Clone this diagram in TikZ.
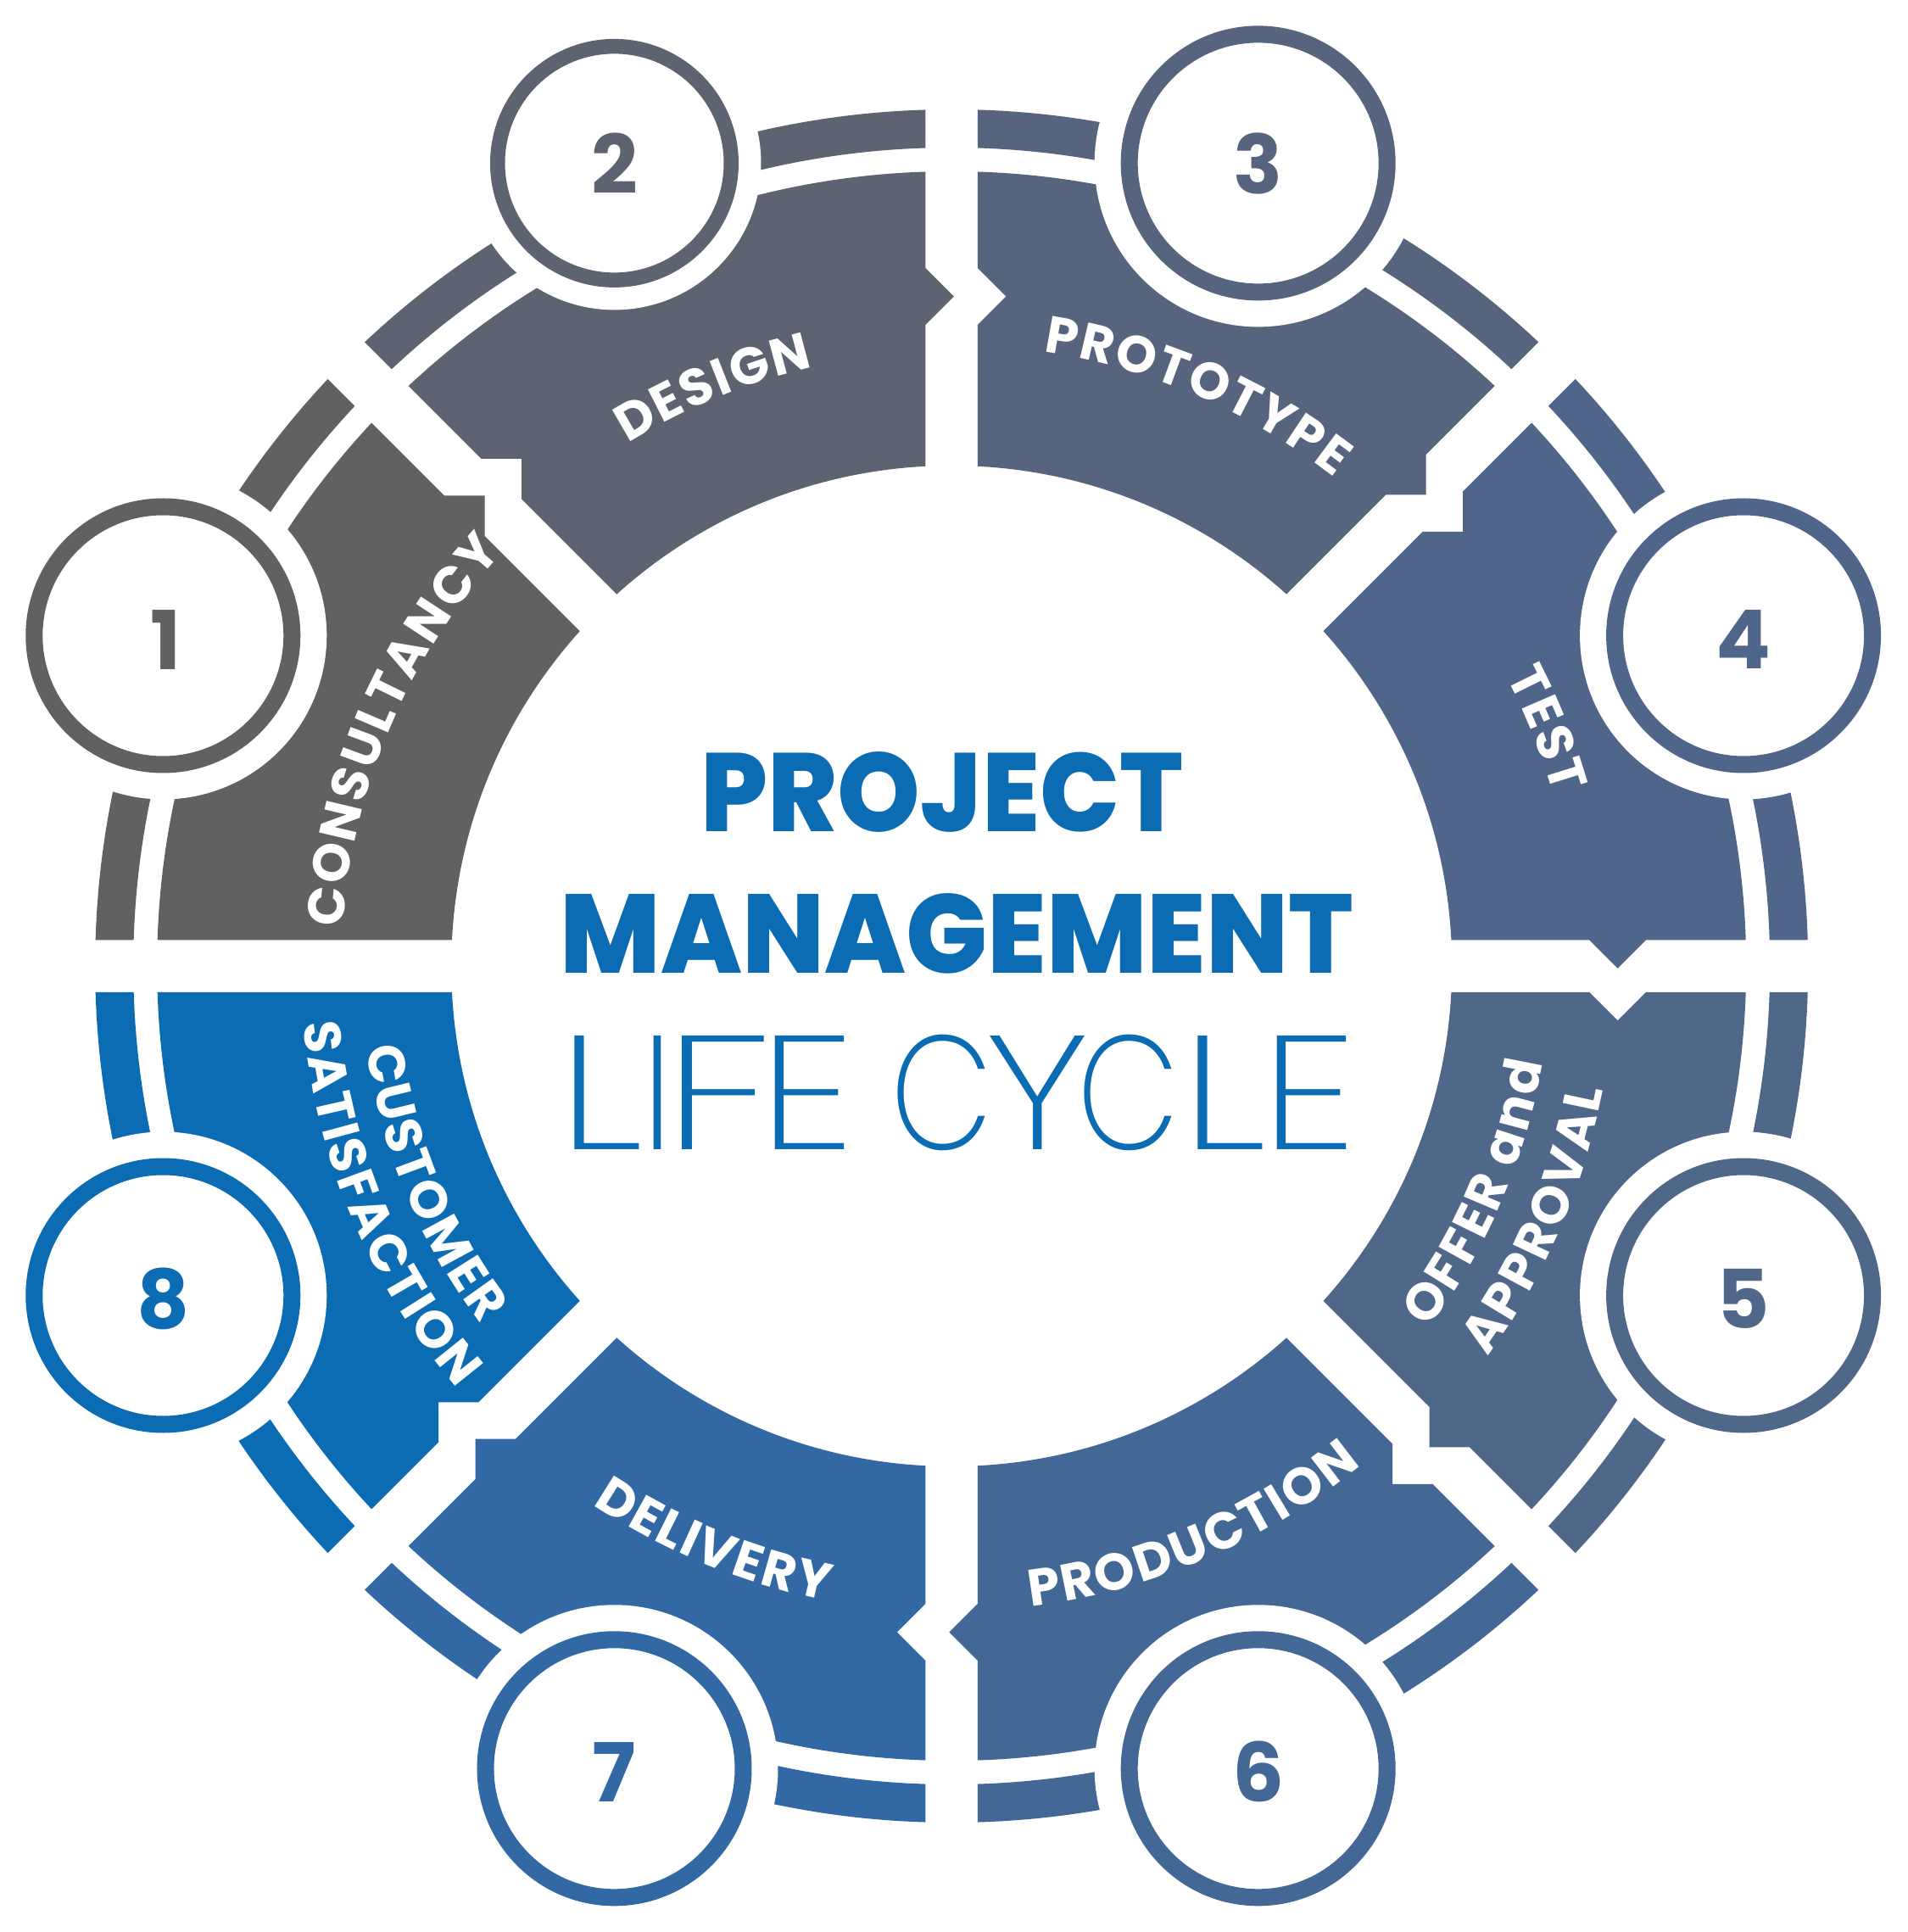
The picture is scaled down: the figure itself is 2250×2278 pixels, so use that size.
\documentclass[tikz,border=0pt]{standalone}
\usepackage{fontspec}
\setmainfont{Poppins}
\newfontfamily\heavyfont{Poppins ExtraBold}
\newfontfamily\lightfont{Poppins ExtraLight}
\usetikzlibrary{decorations.text}
\definecolor{cA}{HTML}{616161}
\definecolor{cB}{HTML}{5D6370}
\definecolor{cC}{HTML}{56657D}
\definecolor{cD}{HTML}{4F668A}
\definecolor{cE}{HTML}{4F6789}
\definecolor{cF}{HTML}{446896}
\definecolor{cG}{HTML}{3269A4}
\definecolor{cH}{HTML}{0B6CB4}
\definecolor{titleblue}{HTML}{0B6CB4}
\newcommand\lblfont{\fontsize{61}{61}\selectfont\bfseries\kern2.5pt}
\newcommand\numfont{\fontsize{96}{96}\selectfont\bfseries}
\newcommand\thinletter[2]{\scalebox{#1}[1]{\fontsize{191}{191}\selectfont\lightfont #2}}
% #1 clockwise boundary angle, #2 colour, #3 tab start on that boundary, #4 tab start on the other boundary
\newcommand\secfill[4]{%
\begin{scope}
\clip[rotate=#1] (-1400,30.75) -- (#3,30.75) -- ({#3+33.5},-2.75) -- ({#3+67},30.75) -- (1400,30.75) -- (1400,1400) -- (-1400,1400) -- cycle;
\clip[rotate={#1+45}] (-1400,-30.75) -- (#4,-30.75) -- ({#4+33.5},-64.25) -- ({#4+67},-30.75) -- (1400,-30.75) -- (1400,-1400) -- (-1400,-1400) -- cycle;
\fill[#2,even odd rule] (0,0) circle[radius=937] (0,0) circle[radius=590] (0,0) circle[radius=1010] (0,0) circle[radius=965];
\end{scope}}
\tikzset{
  lbl/.style={decorate, decoration={text along path, text align=center, text color=white, text={|\lblfont|#1}}},
  numstyle/.style={inner sep=0, font=\numfont},
  halo/.style={fill=white},
  titlestyle/.style={anchor=base west, inner sep=0, text=titleblue},
  thinstyle/.style={anchor=base, inner sep=0, text=titleblue}
}
\begin{document}
\begin{tikzpicture}[x=1pt,y=1pt]
\useasboundingbox (-1122.2,-1139) rectangle (1127.8,1139);
\fill[white] (-1122.2,-1139) rectangle (1127.8,1139);
% sectors
\secfill{135}{cA}{748}{1200}
\secfill{90}{cB}{756}{748}
\secfill{45}{cC}{755}{756}
\secfill{0}{cD}{752}{755}
\secfill{-45}{cE}{766}{752}
\secfill{-90}{cF}{752}{766}
\secfill{-135}{cG}{758}{752}
\secfill{-180}{cH}{1200}{758}
% circle centres
\coordinate (c1) at (-929.9,389.5);
\coordinate (c2) at (-397.7,946.6);
\coordinate (c3) at (361.5,946.6);
\coordinate (c4) at (933.9,389.5);
\coordinate (c5) at (933.9,-388.5);
\coordinate (c6) at (361.5,-946.3);
\coordinate (c7) at (-397.7,-946.3);
\coordinate (c8) at (-929.9,-388.5);
% halos
\fill[halo] (c1) circle[radius=193];
\fill[halo] (c2) circle[radius=173];
\fill[halo] (c3) circle[radius=193];
\fill[halo] (c4) circle[radius=193];
\fill[halo] (c5) circle[radius=193];
\fill[halo] (c6) circle[radius=193];
\fill[halo] (c7) circle[radius=193];
\fill[halo] (c8) circle[radius=193];
% rings
\fill[cA,even odd rule] (c1) circle[radius=162] (c1) circle[radius=142];
\fill[cB,even odd rule] (c2) circle[radius=146.5] (c2) circle[radius=129];
\fill[cC,even odd rule] (c3) circle[radius=162] (c3) circle[radius=142];
\fill[cD,even odd rule] (c4) circle[radius=162] (c4) circle[radius=142];
\fill[cE,even odd rule] (c5) circle[radius=162] (c5) circle[radius=142];
\fill[cF,even odd rule] (c6) circle[radius=162] (c6) circle[radius=142];
\fill[cG,even odd rule] (c7) circle[radius=162] (c7) circle[radius=142];
\fill[cH,even odd rule] (c8) circle[radius=162] (c8) circle[radius=142];
% numbers
\node[numstyle,text=cA] (n1) at (-927,385) {1};
\node[numstyle,text=cB] (n2) at (-397.7,946) {2};
\node[numstyle,text=cC] (n3) at (361.5,946) {3};
\node[numstyle,text=cD] (n4) at (933.9,385) {4};
\node[numstyle,text=cE] (n5) at (933.9,-392) {5};
\node[numstyle,text=cF] (n6) at (361.5,-950) {6};
\node[numstyle,text=cG] (n7) at (-397.7,-950) {7};
\node[numstyle,text=cH] (n8) at (-929.9,-392) {8};
% sector labels (clockwise, tops outward)
\path[lbl=CONSULTANCY] (197:719) arc[start angle=197,end angle=117,radius=719];
\path[lbl=DESIGN] (152.5:725) arc[start angle=152.5,end angle=72.5,radius=725];
\path[lbl=PROTOTYPE] (106.8:732) arc[start angle=106.8,end angle=26.8,radius=732];
\path[lbl=TEST] (61.8:738) arc[start angle=61.8,end angle=-18.2,radius=738];
% sector labels (counter-clockwise, tops inward)
\path[lbl={OFFER and}] (-63.4:706) arc[start angle=-63.4,end angle=16.6,radius=706];
\path[lbl=APPROVAL] (-63.5:782) arc[start angle=-63.5,end angle=16.5,radius=782];
\path[lbl=PRODUCTION] (-106.9:761) arc[start angle=-106.9,end angle=-26.9,radius=761];
\path[lbl=DELIVERY] (-152.5:763) arc[start angle=-152.5,end angle=-72.5,radius=763];
\path[lbl=CUSTOMER] (-197.5:697) arc[start angle=-197.5,end angle=-117.5,radius=697];
\path[lbl=SATISFACTION] (-197.3:767) arc[start angle=-197.3,end angle=-117.3,radius=767];
% title
\node[titlestyle] (t1) at (-296,158.6) {\resizebox{569pt}{94pt}{\fontsize{132}{132}\selectfont\heavyfont PROJECT}};
\node[titlestyle] (t2) at (-462,-8.2) {\resizebox{936pt}{94pt}{\fontsize{132}{132}\selectfont\heavyfont MANAGEMENT}};
\node[thinstyle] (l1) at (-414,-216) {\thinletter{1.3}{L}};
\node[thinstyle] (l2) at (-346.6,-216) {\thinletter{1}{I}};
\node[thinstyle] (l3) at (-275,-216) {\thinletter{1.4}{F}};
\node[thinstyle] (l4) at (-170.5,-216) {\thinletter{1.2}{E}};
\node[thinstyle] (l5) at (-11,-216) {\thinletter{0.82}{C}};
\node[thinstyle] (l6) at (101,-216) {\thinletter{1.2}{Y}};
\node[thinstyle] (l7) at (209,-216) {\thinletter{0.82}{C}};
\node[thinstyle] (l8) at (321,-216) {\thinletter{1.3}{L}};
\node[thinstyle] (l9) at (422,-216) {\thinletter{1.2}{E}};
\end{tikzpicture}
\end{document}
